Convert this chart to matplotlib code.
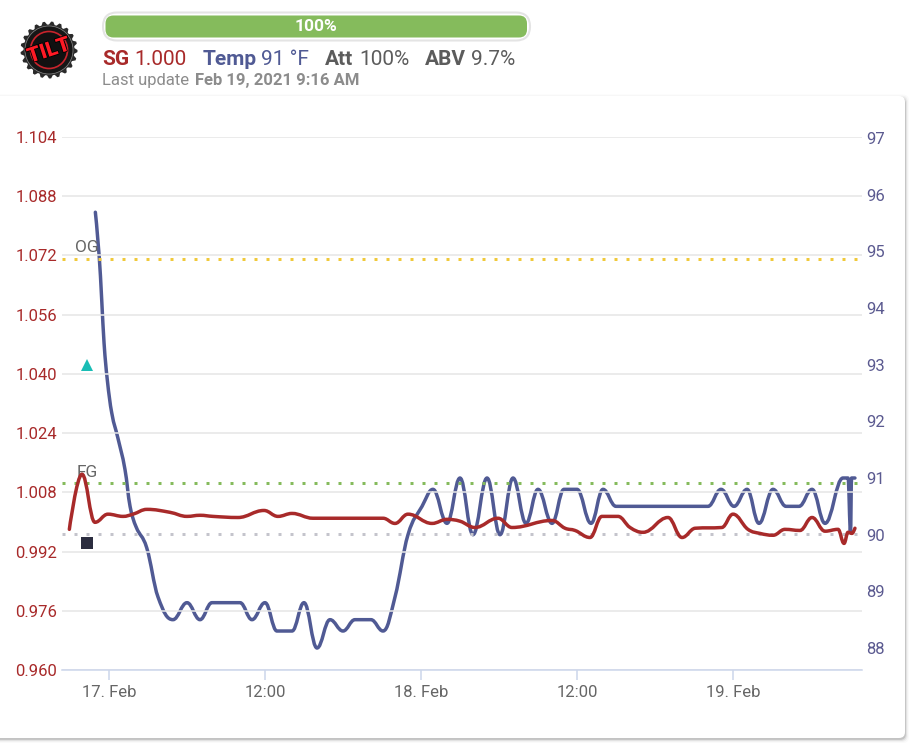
import numpy as np
import matplotlib
matplotlib.use('Agg')
import matplotlib.pyplot as plt
from matplotlib.path import Path
from matplotlib.patches import PathPatch, FancyBboxPatch, Circle, Polygon
import matplotlib.patheffects as pe

plt.rcParams['font.family'] = ['Roboto', 'DejaVu Sans']

# hours since 17 Feb 00:00
temp_hours = [-1.05, -0.75, -0.56, -0.38, -0.13, 0.21, 0.69, 1.23, 1.62, 2.08, 2.9, 3.77, 4.92, 6, 7, 7.92,
              10.08, 11, 12, 12.92, 14.08, 15, 16, 17, 18, 18.92, 20.15, 21.08, 22, 23, 24.08, 24.92,
              26, 27, 28, 29.08, 30.08, 31.08, 32.08, 33, 34.08, 35, 36, 37.08, 38, 39, 46.08, 47.08,
              48.08, 49.08, 50, 51.08, 52.08, 53.08, 54.08, 55.08, 56.46, 56.85, 57.04, 57.12, 57.38]
temp_vals = [95.69, 94.9, 94.14, 93.38, 92.73, 92.15, 91.7, 91.15, 90.5, 90.14, 89.77, 88.9, 88.5, 88.8, 88.5, 88.8,
             88.8, 88.5, 88.8, 88.3, 88.3, 88.8, 88.0, 88.5, 88.3, 88.5, 88.5, 88.3, 88.9, 90.0, 90.5, 90.8,
             90.2, 91.0, 90.0, 91.0, 90.0, 91.0, 90.2, 90.8, 90.2, 90.8, 90.8, 90.2, 90.8, 90.5, 90.5, 90.8,
             90.5, 90.8, 90.2, 90.8, 90.5, 90.5, 90.8, 90.2, 91.0, 91.0, 90.05, 91.0, 91.0]

sg_hours = [-3.05, -2.08, -1.08, -0.08, 1.08, 1.85, 2.92, 4.69, 6, 7, 8, 9.92, 11.92, 13, 14.08, 15.69, 17.92,
            19.15, 21.08, 22, 23, 24.85, 26, 27, 28.15, 29.92, 31, 34.08, 35.08, 35.85, 37, 37.92, 39.15,
            40.08, 41.08, 43, 44.08, 45.08, 47.15, 48, 49.15, 50.08, 51.08, 52, 53.15, 54.08, 55.08, 56.08,
            56.54, 56.85, 57.15, 57.38]
sg_vals = [0.9980, 1.0129, 0.9999, 1.0021, 1.0015, 1.0021, 1.0034, 1.0026, 1.0015, 1.0018, 1.0015, 1.0012, 1.0031,
           1.0015, 1.0023, 1.0010, 1.0010, 1.0010, 1.0010, 0.9996, 1.0021, 0.9996, 1.0007, 1.0002, 0.9985, 1.0010,
           0.9985, 1.0004, 0.9983, 0.9977, 0.9958, 1.0015, 1.0015, 0.9985, 0.9972, 1.0012, 0.9958, 0.9983, 0.9985,
           1.0021, 0.9980, 0.9969, 0.9964, 0.9980, 0.9977, 1.0012, 0.9975, 0.9980, 0.9942, 0.9972, 0.9969, 0.9983]

sg_ticks = [0.960, 0.976, 0.992, 1.008, 1.024, 1.040, 1.056, 1.072, 1.088, 1.104]
temp_ticks = [88, 89, 90, 91, 92, 93, 94, 95, 96, 97]
hour_ticks = [0, 12, 24, 36, 48]
hour_labels = ['17. Feb', '12:00', '18. Feb', '12:00', '19. Feb']

og = 1.0711
fg = 1.0104
sg_now = 0.9968
og_marker = 1.0423
fg_marker = 0.9942
marker_hour = -1.69

RED = '#a82a2a'
BLUE = '#505a94'
W, H = 916, 753


def spline_path(xs, ys):
    # same bezier smoothing as highcharts splines
    xs = np.asarray(xs, float)
    ys = np.asarray(ys, float)
    n = len(xs)
    lx, ly, rx, ry = xs.copy(), ys.copy(), xs.copy(), ys.copy()
    for i in range(1, n - 1):
        x, y = xs[i], ys[i]
        lx[i] = (1.5 * x + xs[i - 1]) / 2.5
        ly[i] = (1.5 * y + ys[i - 1]) / 2.5
        rx[i] = (1.5 * x + xs[i + 1]) / 2.5
        ry[i] = (1.5 * y + ys[i + 1]) / 2.5
        c = (ry[i] - ly[i]) * (rx[i] - x) / (rx[i] - lx[i]) + y - ry[i]
        ly[i] += c
        ry[i] += c
        if ly[i] > ys[i - 1] and ly[i] > y:
            ly[i] = max(ys[i - 1], y)
            ry[i] = 2 * y - ly[i]
        elif ly[i] < ys[i - 1] and ly[i] < y:
            ly[i] = min(ys[i - 1], y)
            ry[i] = 2 * y - ly[i]
        if ry[i] > ys[i + 1] and ry[i] > y:
            ry[i] = max(ys[i + 1], y)
            ly[i] = 2 * y - ry[i]
        elif ry[i] < ys[i + 1] and ry[i] < y:
            ry[i] = min(ys[i + 1], y)
            ly[i] = 2 * y - ry[i]
    verts = [(xs[0], ys[0])]
    codes = [Path.MOVETO]
    for i in range(1, n):
        verts += [(rx[i - 1], ry[i - 1]), (lx[i], ly[i]), (xs[i], ys[i])]
        codes += [Path.CURVE4] * 3
    return Path(verts, codes)


fig = plt.figure(figsize=(W / 100, H / 100), dpi=100, facecolor='#ffffff')

# pixel canvas for the card and the header
bg = fig.add_axes([0, 0, 1, 1], zorder=0)
bg.set_xlim(0, W)
bg.set_ylim(H, 0)
bg.axis('off')

# shadow sits low, the top edge of the card is barely visible
for grow, a in [(4, 0.02), (2.8, 0.04), (1.8, 0.07), (0.9, 0.12)]:
    bg.add_patch(FancyBboxPatch((-20, 96 + 2.5), 925, 640.5, boxstyle='round,pad=%s,rounding_size=6' % grow,
                                fc='#000000', ec='none', alpha=a))
bg.add_patch(FancyBboxPatch((-20, 96), 925, 642, boxstyle='round,pad=0,rounding_size=6', fc='white', ec='none'))

# progress bar
bg.add_patch(FancyBboxPatch((103, 12.5), 427, 28, boxstyle='round,pad=0,rounding_size=14',
                            fc='white', ec='#e4e4e4', lw=1.5))
bg.add_patch(FancyBboxPatch((105.5, 15.5), 421.5, 22, boxstyle='round,pad=0,rounding_size=8',
                            fc='#85bb5c', ec='none'))
bg.text(316, 26.5, '100%', color='white', fontsize=12.5, fontweight='bold', ha='center', va='center')

# logo
ang = np.linspace(0, 2 * np.pi, 85)[:-1]
rad = np.where(np.arange(84) % 4 < 2, 28.5, 25.5)
bg.add_patch(Polygon(np.c_[49 + rad * np.cos(ang), 50 + rad * np.sin(ang)], fc='#2a2a2a', ec='none'))
bg.add_patch(Circle((49, 50), 24, fc='#161616', ec='#8a8a8a', lw=0.5))
bg.add_patch(Circle((49, 50), 18.5, fc='#111111', ec='#c8242c', lw=1.2))
bg.text(49, 51, 'TILT', color='#ff1a25', fontsize=15, fontweight='black', ha='center', va='center', rotation=18,
        path_effects=[pe.withStroke(linewidth=1.2, foreground='black')])

# readings under the bar
readings = [(102, 'SG', RED, 'bold'), (134, '1.000', RED, 'normal'),
            (203, 'Temp', BLUE, 'bold'), (261, '91 °F', BLUE, 'normal'),
            (325, 'Att', '#5c5c5c', 'bold'), (359, '100%', '#5c5c5c', 'normal'),
            (425, 'ABV', '#5c5c5c', 'bold'), (471, '9.7%', '#5c5c5c', 'normal')]
for x, s, c, w in readings:
    bg.text(x, 65, s, color=c, fontsize=15, fontweight=w, ha='left', va='baseline')
bg.text(102, 84.5, 'Last update', color='#8c8c8c', fontsize=12, ha='left', va='baseline')
bg.text(195, 84.5, 'Feb 19, 2021 9:16 AM', color='#8c8c8c', fontsize=12, fontweight='bold', ha='left', va='baseline')

# chart area, 62..862 px wide, 137..670 px tall
ax = fig.add_axes([62 / W, 1 - 670 / H, 800 / W, 533 / H], zorder=2)
ax.set_xlim((62 - 109) / 13, (862 - 109) / 13)
ax.set_ylim(0.960, 1.104)
ax.patch.set_visible(False)

ax2 = ax.twinx()
ax2.set_zorder(1)
ax2.set_ylim(88 - 22 / 56.7, 97 + 1 / 56.7)
ax2.patch.set_visible(False)

for a in (ax, ax2):
    for side in ('top', 'left', 'right'):
        a.spines[side].set_visible(False)
ax2.spines['bottom'].set_visible(False)
ax.spines['bottom'].set_color('#ccd6eb')
ax.spines['bottom'].set_linewidth(1.1)

ax.set_yticks(sg_ticks)
ax.set_yticklabels(['%.3f' % v for v in sg_ticks])
ax.tick_params(axis='y', length=0, pad=3.5, labelsize=12, labelcolor=RED)
ax.grid(axis='y', color='#e6e6e6', lw=1.1)
ax.set_axisbelow(True)

ax2.set_yticks(temp_ticks)
ax2.tick_params(axis='y', length=0, pad=3, labelsize=12, labelcolor='#5b5a90')

ax.set_xticks(hour_ticks)
ax.set_xticklabels(hour_labels)
ax.tick_params(axis='x', length=7.2, width=1.1, color='#ccd6eb', labelsize=12, labelcolor='#666666', pad=3.5)

ax.axhline(og, color='#f0c93a', lw=2.16, ls=(0, (1, 3)), dash_capstyle='butt', zorder=1.5)
ax.axhline(fg, color='#85bb5c', lw=2.16, ls=(0, (1, 3)), dash_capstyle='butt', zorder=1.5)
ax.axhline(sg_now, color='#c4c4cc', lw=2.16, ls=(0, (1, 3)), dash_capstyle='butt', zorder=1.5)

ax.text(marker_hour, og + 0.0009, 'OG', color='#666666', fontsize=12.5, ha='center', va='bottom')
ax.text(marker_hour, fg + 0.0009, 'FG', color='#666666', fontsize=12.5, ha='center', va='bottom')

ax.plot([marker_hour], [og_marker], marker='^', ms=8.5, color='#19bdb5', mew=0, ls='none')
ax.plot([marker_hour], [fg_marker], marker='s', ms=8.6, color='#2b2d3f', mew=0, ls='none')

ax2.add_patch(PathPatch(spline_path(temp_hours, temp_vals), fc='none', ec=BLUE, lw=2.5, capstyle='round', joinstyle='round'))
ax.add_patch(PathPatch(spline_path(sg_hours, sg_vals), fc='none', ec=RED, lw=2.5, capstyle='round', joinstyle='round', zorder=3))

fig.savefig('out.png', dpi=100)
